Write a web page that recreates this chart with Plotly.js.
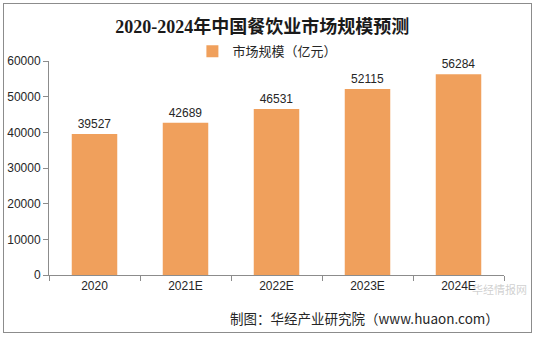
<!DOCTYPE html>
<html><head><meta charset="utf-8">
<script src="https://cdn.plot.ly/plotly-3.0.1.min.js"></script>
<style>
html,body{margin:0;padding:0;background:#fff;}
#wrap{position:relative;width:535px;height:338px;}
#chart{width:535px;height:338px;}
#frame{position:absolute;left:3px;top:3px;width:527px;height:328px;border:1px solid #8c8c8c;pointer-events:none;}
</style></head>
<body>
<div id="wrap"><div id="chart"></div><div id="frame"></div></div>
<script>
var categories = ["2020", "2021E", "2022E", "2023E", "2024E"];
var marketSize = [39527, 42689, 46531, 52115, 56284];
var seriesName = "市场规模（亿元）";
var yTicks = [0, 10000, 20000, 30000, 40000, 50000, 60000];

var trace = {
  type: "bar",
  x: categories,
  y: marketSize,
  name: seriesName,
  marker: {color: "#F0A05C"},
  width: 0.5,
  text: marketSize.map(String),
  textposition: "outside",
  cliponaxis: false,
  textfont: {family: "Liberation Sans, Arial, sans-serif", size: 12, color: "#262626"},
  showlegend: true
};

var layout = {
  width: 535, height: 338,
  margin: {l: 49, r: 31, t: 61, b: 63},
  paper_bgcolor: "#fff", plot_bgcolor: "#fff",
  font: {family: "Liberation Sans, Arial, sans-serif", size: 12, color: "#262626"},
  title: {
    text: "<b>2020-2024年中国餐饮业市场规模预测</b>",
    font: {family: "Liberation Serif, Noto Sans CJK SC, serif", size: 18, color: "#1a1a1a"},
    x: 0.49, xanchor: "center", y: 0.922, yanchor: "middle"
  },
  showlegend: true,
  legend: {
    orientation: "h", x: 0.48, xanchor: "center", y: 1.045, yanchor: "middle",
    font: {family: "Noto Sans CJK SC, sans-serif", size: 13, color: "#262626"},
    bgcolor: "rgba(0,0,0,0)"
  },
  xaxis: {
    type: "category",
    showline: true, linecolor: "#8c8c8c", linewidth: 1,
    ticks: "outside", ticklen: 5, tickcolor: "#8c8c8c",
    tickson: "boundaries",
    showgrid: false,
    tickfont: {size: 12, color: "#262626"}
  },
  yaxis: {
    range: [0, 60000],
    tickvals: yTicks,
    ticktext: yTicks.map(String),
    showline: true, linecolor: "#8c8c8c", linewidth: 1,
    ticks: "outside", ticklen: 5, tickcolor: "#8c8c8c",
    showgrid: false, zeroline: false,
    tickfont: {size: 12, color: "#262626"}
  },
  bargap: 0.5,
  annotations: [
    {
      text: "制图：华经产业研究院（www.huaon.com）",
      xref: "paper", yref: "paper", x: 0.993, xanchor: "right", y: -0.2, yanchor: "middle",
      showarrow: false,
      font: {family: "Noto Sans CJK SC, sans-serif", size: 13.5, color: "#262626"}
    },
    {
      text: "华经情报网",
      xref: "paper", yref: "paper", x: 1.055, xanchor: "right", y: -0.065, yanchor: "middle",
      showarrow: false,
      font: {family: "Noto Sans CJK SC, sans-serif", size: 11, color: "rgba(160,160,160,0.5)"}
    }
  ]
};

Plotly.newPlot("chart", [trace], layout, {staticPlot: true, displayModeBar: false});
</script>
</body></html>
